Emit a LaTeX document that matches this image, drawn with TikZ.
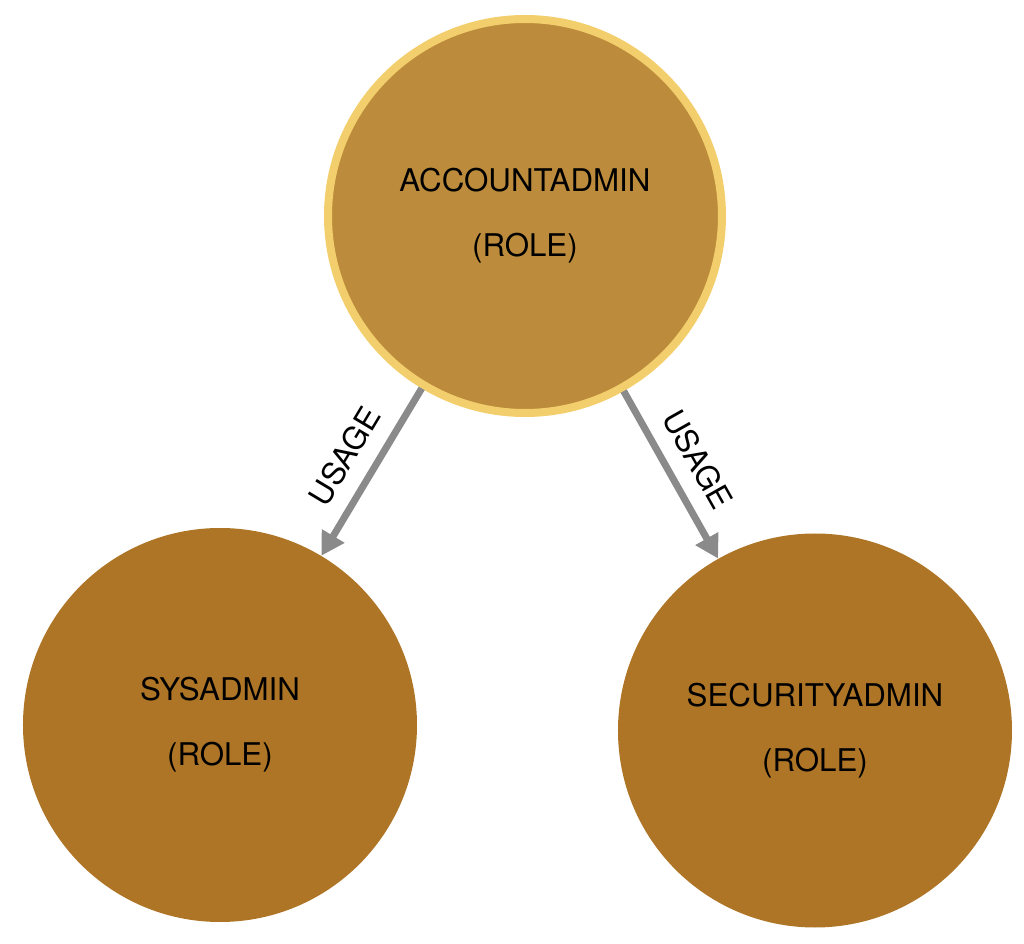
\documentclass[tikz,border=0pt]{standalone}
\usepackage{fontspec}
\setmainfont{TeX Gyre Heros}
\usepackage{tikz}
\usetikzlibrary{shapes,arrows.meta,positioning}

\definecolor{acctfill}{RGB}{188,140,60}
\definecolor{acctring}{RGB}{243,206,108}
\definecolor{rolefill}{RGB}{174,117,38}
\definecolor{usagegray}{RGB}{138,138,138}

\begin{document}
\begin{tikzpicture}[auto,node distance=6cm,font=\fontsize{17.8pt}{37pt}\selectfont]
\tikzstyle{role}=[circle,minimum size=7.88cm,fill=rolefill,text=black,align=center]
\tikzstyle{acct}=[role,minimum size=7.88cm,fill=acctfill,draw=acctring,line width=0.16cm]
\tikzstyle{usage}=[draw=usagegray,line width=0.14cm,-{Triangle[length=0.46cm,width=0.5cm]}]
\useasboundingbox (-10.50,-14.56) rectangle (9.98,4.32);
\node[acct] (A) {ACCOUNTADMIN\\(ROLE)};
\node[role,on grid,below left=10.18cm and 6.10cm of A] (S) {SYSADMIN\\(ROLE)};
\node[role,on grid,below right=10.29cm and 5.80cm of A] (C) {SECURITYADMIN\\(ROLE)};
\path (A) edge[usage] node[sloped,above=0.2cm]{USAGE} (S)
          edge[usage] node[sloped,above=0.2cm]{USAGE} (C);
\end{tikzpicture}
\end{document}
